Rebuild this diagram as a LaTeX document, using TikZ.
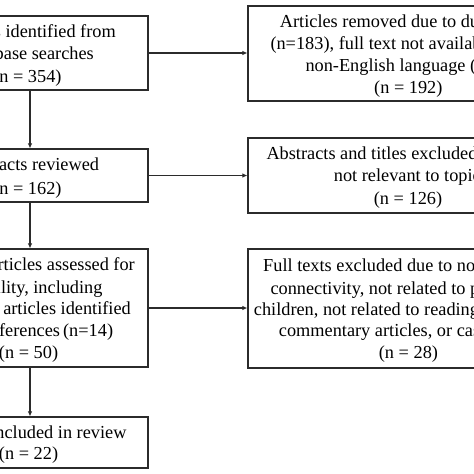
\documentclass[tikz,border=0pt]{standalone}
\usepackage{fontspec}
\setmainfont{Liberation Serif}
\usetikzlibrary{arrows.meta}
\definecolor{ln}{HTML}{2B2B2B}
\tikzset{
  box/.style={draw=ln, line width=1.2pt, rectangle, inner sep=0pt, fill=none},
  arr/.style={draw=ln, line width=1.2pt, -{Latex[length=5pt,width=4.5pt]}},
  lineE/.style={anchor=base east, inner sep=0pt, font=\fontsize{18.3}{22}\selectfont, text=black},
  lineW/.style={anchor=base west, inner sep=0pt, font=\fontsize{18.3}{22}\selectfont, text=black}
}
\begin{document}
\begin{tikzpicture}[x=1pt,y=-1pt]
\useasboundingbox (0,0) rectangle (474,474);
\fill[white] (0,0) rectangle (474,474);
\clip (0,0) rectangle (474,474);
% boxes
\node[box, minimum width=236pt, minimum height=74pt]  (L1) at (30,53) {};
\node[box, minimum width=236pt, minimum height=53pt]  (L2) at (30,175.5) {};
\node[box, minimum width=236pt, minimum height=118pt] (L3) at (30,308) {};
\node[box, minimum width=236pt, minimum height=51pt]  (L4) at (30,442.5) {};
\node[box, minimum width=318pt, minimum height=95pt]  (R1) at (407,53.5) {};
\node[box, minimum width=318pt, minimum height=75pt]  (R2) at (407,175.5) {};
\node[box, minimum width=318pt, minimum height=119pt] (R3) at (407,308.5) {};
% left texts
\node[lineE] (l1a) at (116,37) {Records identified from};
\node[lineE] (l1b) at (94,59.5) {database searches};
\node[lineE] (l1c) at (61.7,82) {(n = 354)};
\node[lineE] (l2a) at (99.3,170.7) {Abstracts reviewed};
\node[lineE] (l2b) at (61.7,194) {(n = 162)};
\node[lineE] (l3a) at (135,270.7) {Full-text articles assessed for};
\node[lineE] (l3b) at (102.7,293.3) {eligibility,\ including};
\node[lineE] (l3c) at (131,314) {additional articles identified};
\node[lineE] (l3d) at (113.3,336.7) {from references\,(n=14)};
\node[lineE] (l3e) at (58.3,358) {(n = 50)};
\node[lineE] (l4a) at (126.7,438.3) {Studies included in review};
\node[lineE] (l4b) at (58.3,459.3) {(n = 22)};
% right texts
\node[lineW] (r1a) at (279.7,27) {Articles removed due to duplicates};
\node[lineW] (r1b) at (270.3,49) {(n=183), full text not available (n=5),};
\node[lineW] (r1c) at (305.3,71.5) {non-English language (n=4)};
\node[lineW] (r1d) at (374,93.5) {(n = 192)};
\node[lineW] (r2a) at (266.3,159.3) {Abstracts and titles excluded as};
\node[lineW] (r2b) at (333.7,181.7) {not relevant to topic};
\node[lineW] (r2c) at (373.7,204) {(n = 126)};
\node[lineW] (r3a) at (263,271.7) {Full texts excluded due to non-functional};
\node[lineW] (r3b) at (270.3,294.3) {connectivity, not related to pediatric};
\node[lineW] (r3c) at (253.7,315) {children, not related to reading,};
\node[lineW] (r3d) at (278.7,336.7) {commentary articles, or case reports};
\node[lineW] (r3e) at (378.7,358) {(n = 28)};
% connectors
\draw[arr] (L1.south) -- (L2.north);
\draw[arr] (L2.south) -- (L3.north);
\draw[arr] (L3.south) -- (L4.north);
\draw[arr] (L1.east) -- (L1.east -| R1.west);
\draw[arr] (L2.east) -- (L2.east -| R2.west);
\draw[arr] (L3.east) -- (L3.east -| R3.west);
\end{tikzpicture}
\end{document}
